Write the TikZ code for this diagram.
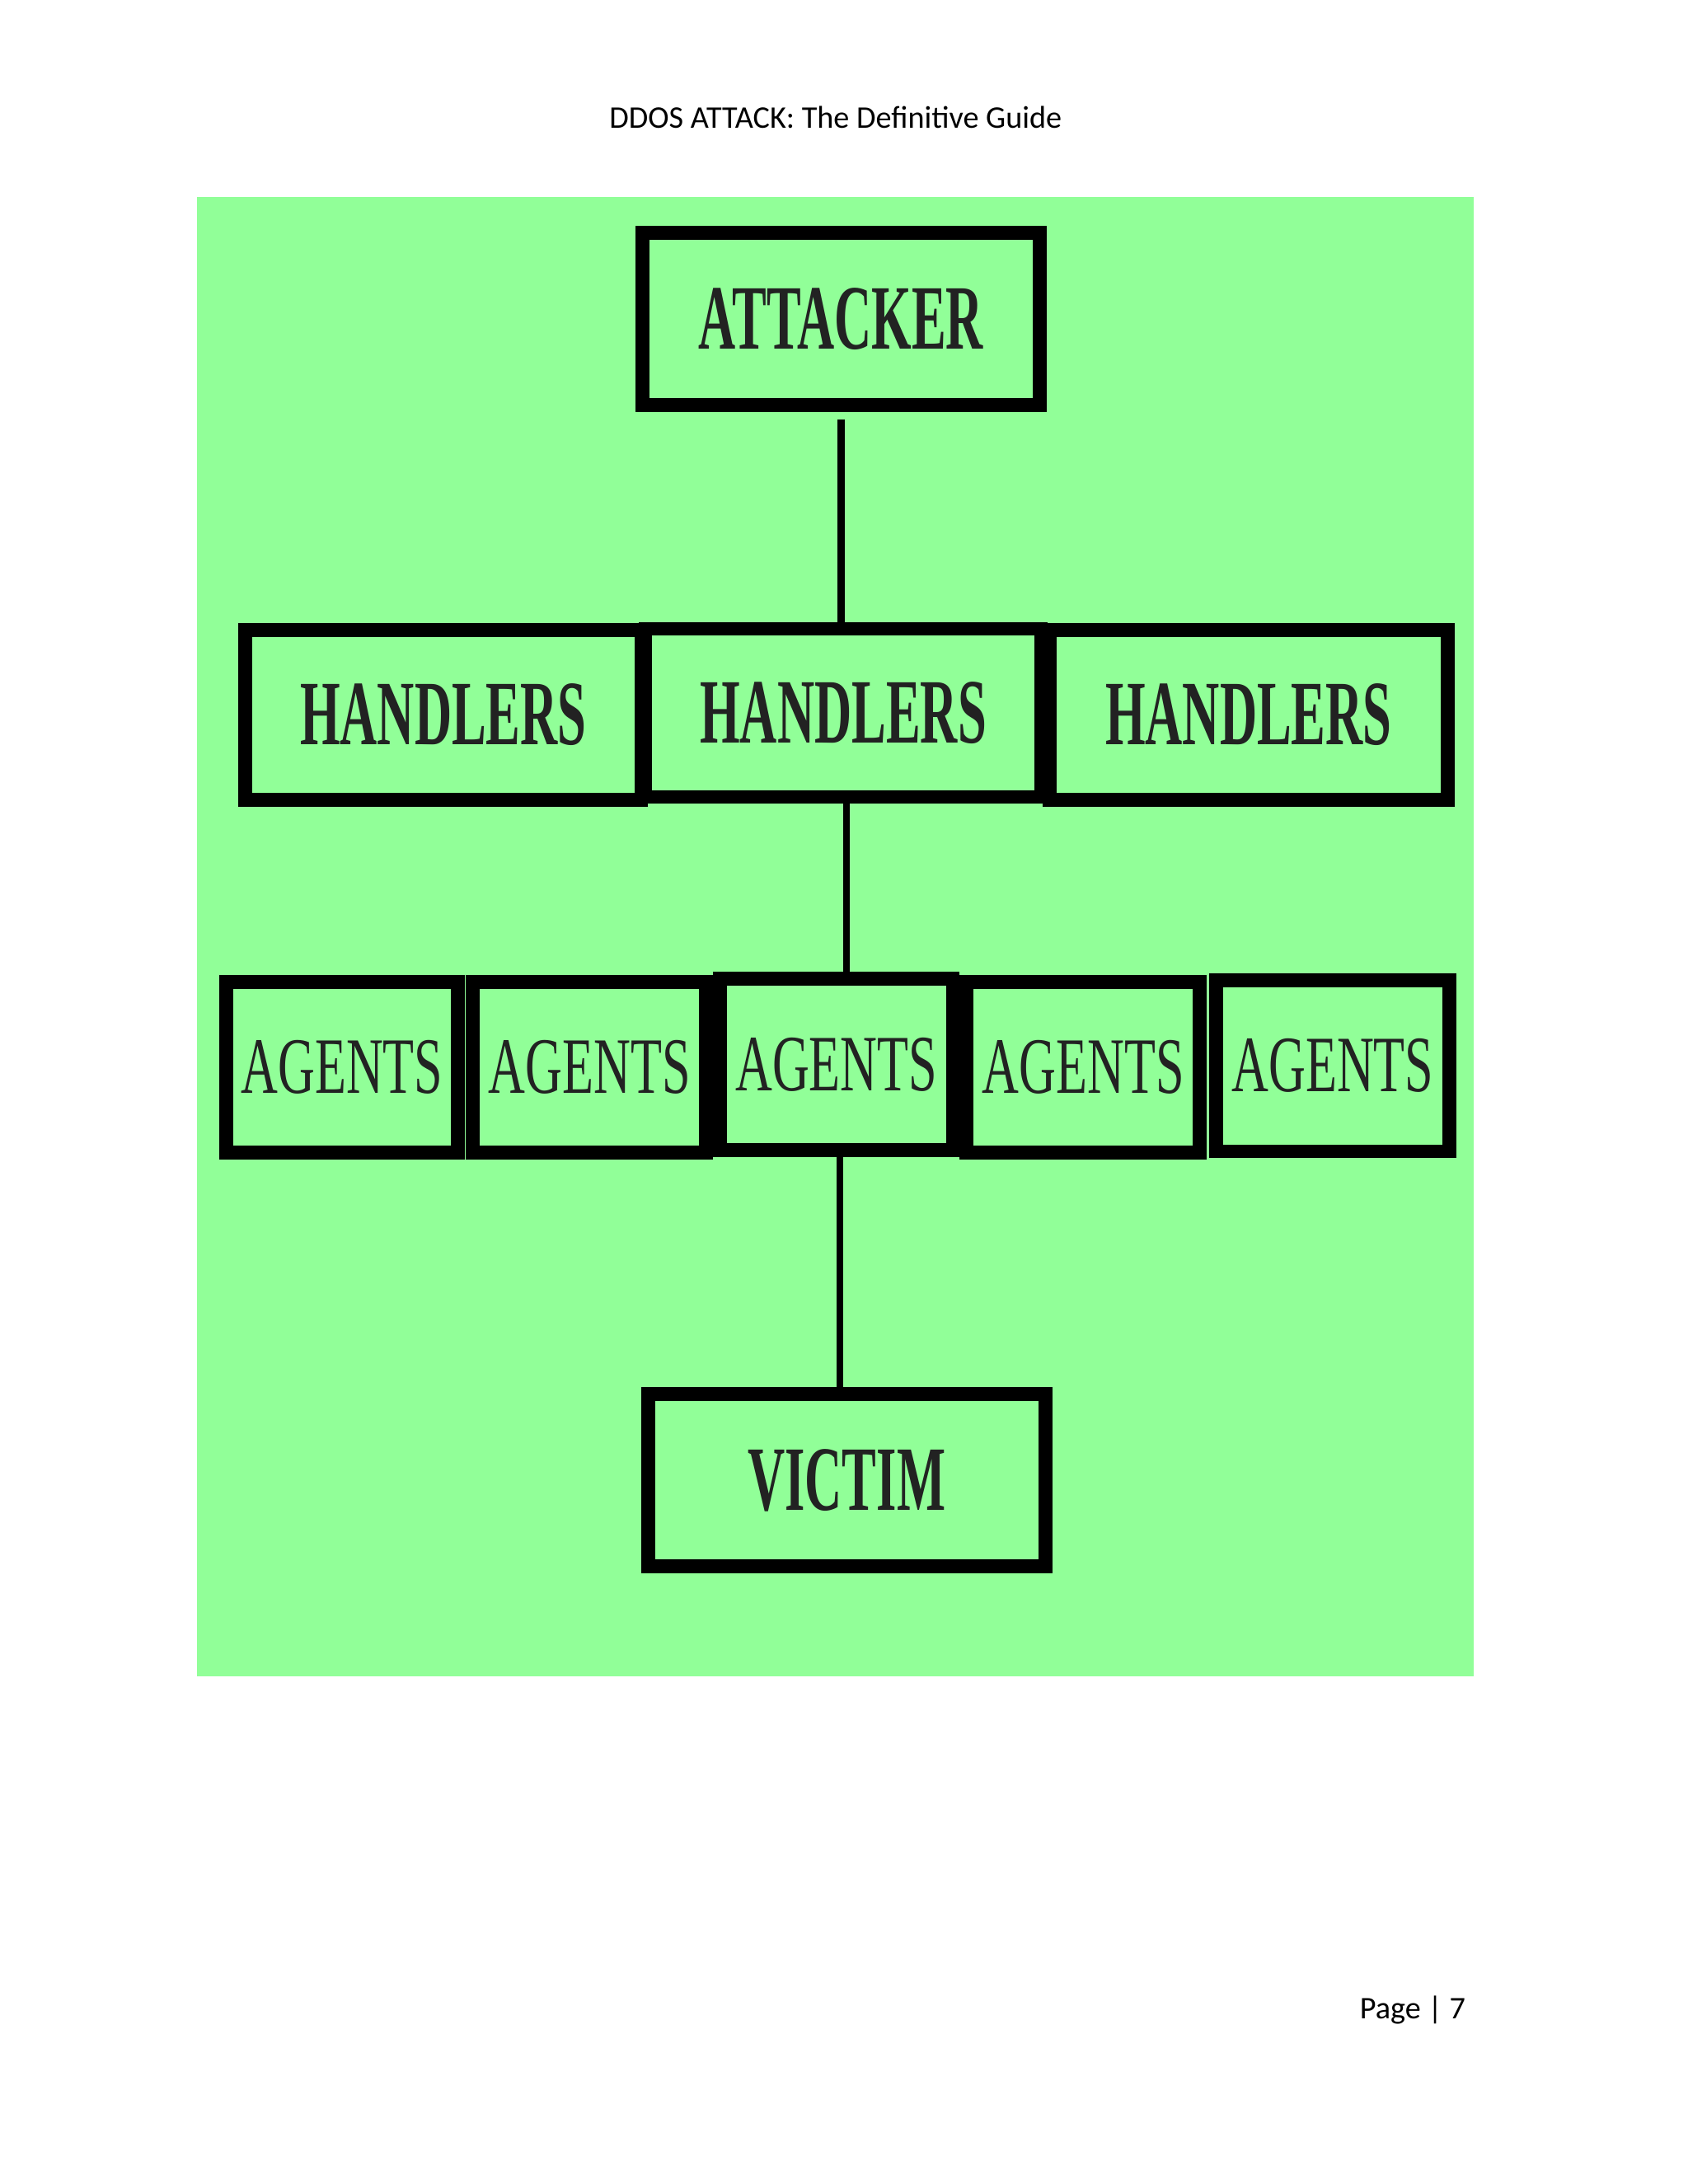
\documentclass[tikz,border=0pt]{standalone}
\usepackage{fontspec}
\setmainfont{Liberation Serif}
\newfontfamily\hdr{Carlito}
\definecolor{bg}{HTML}{91FF98}
\begin{document}
\begin{tikzpicture}[x=0.02cm,y=-0.02cm,
  bx/.style={draw=black,line width=0.2cm,inner sep=0pt,anchor=north west},
  big/.style={font=\fontsize{38}{38}\selectfont\bfseries},
  ag/.style={font=\fontsize{33}{33}\selectfont},
  ln/.style={line width=0.1cm}]
\useasboundingbox (0,0) rectangle (1224,1584);
\fill[white] (0,0) rectangle (1224,1584);
\fill[bg] (143,143) rectangle (1069,1216);
\node[font=\hdr\fontsize{13}{13}\selectfont] (hd) at (606,85) {DDOS ATTACK: The Definitive Guide};
\node[font=\hdr\fontsize{13}{13}\selectfont,anchor=east] (pg) at (1069,1458) {Page | 7};
\newcommand\bxx[7]{\node[bx,minimum width=#4*0.02cm,minimum height=#5*0.02cm] (#1) at (#2,#3) {};
  \node[#6] at (#1.center) {\scalebox{#7}[1]{\textcolor[HTML]{222222}{\csname lbl#1\endcsname}}};}
\def\lblatt{ATTACKER}\def\lblhl{HANDLERS}\def\lblhm{HANDLERS}\def\lblhr{HANDLERS}
\def\lblaa{AGENTS}\def\lblab{AGENTS}\def\lblac{AGENTS}\def\lblad{AGENTS}\def\lblae{AGENTS}
\def\lblvic{VICTIM}
\bxx{att}{461}{164}{288}{125}{big}{0.56}
\bxx{hl}{173}{452}{287}{123}{big}{0.56}
\bxx{hr}{756}{452}{289}{123}{big}{0.56}
\bxx{hm}{463}{451}{287}{122}{big}{0.56}
\bxx{aa}{159}{707}{168}{124}{ag}{0.64}
\bxx{ab}{338}{707}{169}{124}{ag}{0.64}
\bxx{ae}{877}{706}{169}{124}{ag}{0.64}
\bxx{ad}{696}{707}{169}{124}{ag}{0.64}
\bxx{ac}{517}{705}{169}{124}{ag}{0.64}
\bxx{vic}{465}{1006}{288}{125}{big}{0.56}
\draw[ln] (att.south) ++(0,5) -- ([yshift=-0.1cm]att.south |- hm.north);
\draw[ln] ([xshift=0.05cm]hm.south) ++(0,-5) -- ([xshift=0.05cm,yshift=-0.1cm]hm.south |- ac.north);
\draw[ln] ([xshift=0.05cm]ac.south) ++(0,-5) -- ([xshift=0.05cm,yshift=-0.1cm]ac.south |- vic.north);
\end{tikzpicture}
\end{document}
